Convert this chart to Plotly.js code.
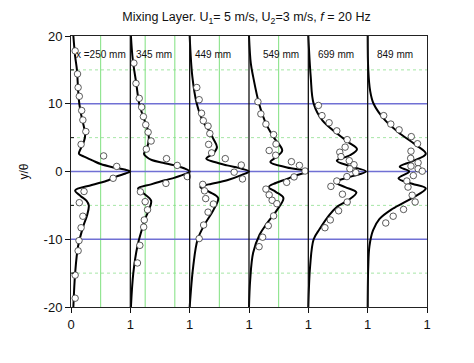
<!DOCTYPE html>
<html><head><meta charset="utf-8">
<script src="https://cdn.plot.ly/plotly-3.0.1.min.js"></script>
<style>html,body{margin:0;padding:0;background:#fff}#chart{width:474px;height:363px}</style>
</head><body><div id="chart"></div>
<script>
// Panel labels (streamwise stations)
var panelLabels = ['x =250 mm', '345 mm', '449 mm', '549 mm', '699 mm', '849 mm'];
var labelPos = [0.5, 0.4, 0.39, 0.54, 0.46, 0.46];
var xTickVals = [0, 1, 2, 3, 4, 5, 6];
var xTickText = ['0', '1', '1', '1', '1', '1', '1'];
var yTickVals = [-20, -10, 0, 10, 20];
var yTickText = ['-20', '-10', '0', '10', '20'];
var greenLines = [0.5, 1.25, 1.75, 2.5, 3.5];
var blueLines = [-10, 0, 10];
var dotLines = [-15, -5, 5, 15];

// Theory curves (y/theta, normalised amplitude) per panel
var cY1 = [20,17,15,12,10,8,6.5,5.5,4.5,3.5,2.6,2.2,1.6,1.1,0.6,0.25,0,-0.3,-0.8,-1.3,-2.0,-2.8,-3.6,-4.3,-5.0,-6.5,-8,-11,-15,-20];
var cX1 = [0.04,0.07,0.10,0.12,0.14,0.18,0.22,0.24,0.22,0.17,0.135,0.22,0.37,0.5,0.72,0.92,1.0,0.92,0.75,0.63,0.35,0.07,0.16,0.26,0.30,0.27,0.21,0.12,0.07,0.04];
var cY2 = [20,16.6,13,10,8,6,4.6,3.5,2.6,2.1,1.7,1.3,0.9,0.4,0,-0.4,-0.9,-1.3,-1.9,-2.5,-3.2,-4.3,-5.5,-7,-8.7,-11,-15,-20];
var cX2 = [0.01,0.04,0.10,0.15,0.22,0.30,0.31,0.28,0.23,0.28,0.36,0.55,0.75,0.93,1.0,0.92,0.75,0.58,0.35,0.13,0.22,0.35,0.32,0.25,0.19,0.12,0.05,0.01];
var cY3 = [20,14,10,7.3,6,4.8,3.6,2.7,1.9,1.4,0.9,0.4,0,-0.5,-1.3,-1.9,-2.3,-3.0,-3.9,-5.7,-7.7,-10,-14,-20];
var cX3 = [0.0,0.045,0.12,0.23,0.33,0.40,0.46,0.40,0.28,0.42,0.63,0.88,1.0,0.88,0.63,0.32,0.18,0.33,0.48,0.40,0.26,0.135,0.06,0.0];
var cY4 = [20,16,14,10,7,5,3.1,2.2,1.4,0.6,0,-0.6,-1.1,-1.7,-2.3,-3.0,-3.9,-5.7,-7.7,-9.3,-12,-16,-20];
var cX4 = [0.0,0.03,0.07,0.17,0.29,0.42,0.56,0.47,0.36,0.64,0.99,0.78,0.64,0.45,0.33,0.45,0.58,0.47,0.30,0.18,0.07,0.02,0.0];
var cY5 = [20,14,10,7.5,5.5,4.3,3.3,2.4,1.6,0.8,0,-0.8,-1.6,-2.3,-3.1,-4.3,-5.3,-6.7,-8.5,-10,-14,-20];
var cX5 = [0.0,0.04,0.09,0.24,0.5,0.68,0.82,0.70,0.48,0.70,0.97,0.70,0.46,0.62,0.81,0.66,0.47,0.33,0.19,0.09,0.03,0.0];
var cY6 = [20,15,12,10,7.5,5.5,4.0,2.6,1.5,0.7,0,-1.0,-1.8,-2.5,-4.0,-5.5,-7,-8.7,-11,-14,-20];
var cX6 = [0,0.01,0.04,0.1,0.3,0.56,0.8,0.98,0.75,0.54,0.70,0.52,0.75,0.98,0.73,0.42,0.2,0.09,0.03,0.01,0];

// Measured points per panel
var mY1 = [17.8,14.4,12.4,11.1,9.0,7.6,5.9,4.0,2.3,0.75,-1.0,-2.95,-4.6,-6.6,-8.3,-10.2,-11.7,-15.3,-18.7];
var mX1 = [0.07,0.11,0.12,0.14,0.18,0.2,0.25,0.17,0.55,0.77,0.71,0.22,0.14,0.2,0.17,0.135,0.12,0.07,0.07];
var mY2 = [16.0,13.0,10.8,9.5,8.1,6.9,5.8,4.5,3.3,1.9,0.9,-0.75,-1.75,-3.0,-4.45,-5.65,-7.15,-8.2,-10.9,-13.5];
var mX2 = [0.06,0.095,0.15,0.19,0.22,0.26,0.30,0.35,0.27,0.61,0.79,0.96,0.6,0.17,0.25,0.29,0.235,0.225,0.16,0.12];
var mY3 = [12.4,10.6,8.6,7.5,6.7,5.6,4.0,2.75,1.9,0.95,-0.1,-1.1,-1.9,-2.85,-4.0,-4.8,-6.0,-7.9,-9.9];
var mX3 = [0.12,0.16,0.2,0.23,0.31,0.34,0.32,0.37,0.6,0.87,0.75,0.89,0.22,0.25,0.27,0.40,0.31,0.235,0.16];
var mY4 = [10.3,8.5,7.0,5.45,4.05,3.1,2.4,1.45,0.9,0.07,-0.8,-1.6,-2.6,-3.45,-4.25,-4.75,-6.55,-8.0,-9.7,-11.1];
var mX4 = [0.15,0.2,0.285,0.415,0.455,0.34,0.45,0.715,0.85,0.945,0.76,0.635,0.285,0.34,0.39,0.47,0.415,0.325,0.23,0.17];
var mY5 = [9.75,8.25,7.2,6.0,4.7,3.6,2.85,2.2,1.6,1.0,0.4,-0.15,-0.75,-1.4,-2.2,-3.35,-4.5,-5.8,-7.15,-8.3];
var mX5 = [0.17,0.23,0.35,0.48,0.655,0.62,0.53,0.55,0.69,0.77,0.70,0.80,0.65,0.48,0.38,0.575,0.655,0.51,0.37,0.28];
var mY6 = [8.25,7.0,6.15,5.15,4.1,3.0,1.95,1.3,0.8,0.4,0.05,-0.6,-1.4,-2.3,-3.5,-4.5,-5.6,-6.6,-7.6];
var mX6 = [0.27,0.39,0.53,0.735,0.84,0.73,0.725,0.85,0.73,0.85,0.92,0.77,0.66,0.68,0.75,0.80,0.605,0.43,0.305];

var curves = [[cX1,cY1],[cX2,cY2],[cX3,cY3],[cX4,cY4],[cX5,cY5],[cX6,cY6]];
var points = [[mX1,mY1],[mX2,mY2],[mX3,mY3],[mX4,mY4],[mX5,mY5],[mX6,mY6]];

var traces = [];
curves.forEach(function(c, i){
  traces.push({type:'scatter', mode:'lines', x:c[0].map(function(v){return v+i;}), y:c[1],
    line:{color:'#000', width:2, shape:'spline', smoothing:1}, hoverinfo:'skip', showlegend:false});
});
points.forEach(function(p, i){
  traces.push({type:'scatter', mode:'markers', x:p[0].map(function(v){return v+i;}), y:p[1],
    marker:{symbol:'circle', size:6.5, color:'#fff', line:{color:'#333', width:0.8}}, hoverinfo:'skip', showlegend:false});
});

var shapes = [];
dotLines.forEach(function(v){
  shapes.push({type:'line', xref:'x', yref:'y', x0:0, x1:6, y0:v, y1:v, layer:'below', line:{color:'#a6e6a6', width:1, dash:'dot'}});
  shapes.push({type:'line', xref:'x', yref:'y', x0:0, x1:0.05, y0:v, y1:v, layer:'above', line:{color:'#111', width:1}});
});
greenLines.forEach(function(g){
  shapes.push({type:'line', xref:'x', yref:'y', x0:g, x1:g, y0:-20, y1:20, layer:'below', line:{color:'#7fe07f', width:1}});
});
blueLines.forEach(function(v){
  shapes.push({type:'line', xref:'x', yref:'y', x0:0, x1:6, y0:v, y1:v, layer:'below', line:{color:'#7070d4', width:1.6}});
});
[1,2,3,4,5].forEach(function(b){
  shapes.push({type:'line', xref:'x', yref:'y', x0:b, x1:b, y0:-20, y1:20, layer:'above', line:{color:'#111', width:1.3}});
});

var annotations = panelLabels.map(function(t, i){
  return {text:t, xref:'x', yref:'y', x:i+labelPos[i], y:17.3, showarrow:false,
    font:{family:'Liberation Sans, Arial, sans-serif', size:10, color:'#111'}};
});

var layout = {
  width:474, height:363,
  margin:{l:71, r:47, t:36, b:56},
  paper_bgcolor:'#fff', plot_bgcolor:'#fff',
  font:{family:'Liberation Sans, Arial, sans-serif', color:'#111'},
  title:{text:'Mixing Layer. U<sub>1</sub>= 5 m/s, U<sub>2</sub>=3 m/s, <i>f</i> = 20 Hz',
    font:{size:12.5, color:'#111'}, x:0.52, xanchor:'center', y:0.953, yanchor:'middle', yref:'container'},
  xaxis:{range:[0,6], tickvals:xTickVals, ticktext:xTickText, ticks:'outside', ticklen:5, tickcolor:'#111',
    showgrid:false, zeroline:false, showline:true, linecolor:'#222', mirror:true,
    tickfont:{size:13}, fixedrange:true},
  yaxis:{range:[-20,20], tickvals:yTickVals, ticktext:yTickText, ticks:'outside', ticklen:5, tickcolor:'#111',
    showgrid:false, zeroline:false, showline:true, linecolor:'#222', mirror:true,
    tickfont:{size:13},
    title:{text:'y/θ', font:{size:12}, standoff:12}, fixedrange:true},
  shapes:shapes,
  annotations:annotations
};

Plotly.newPlot('chart', traces, layout, {displayModeBar:false, staticPlot:true});
</script>
</body></html>
